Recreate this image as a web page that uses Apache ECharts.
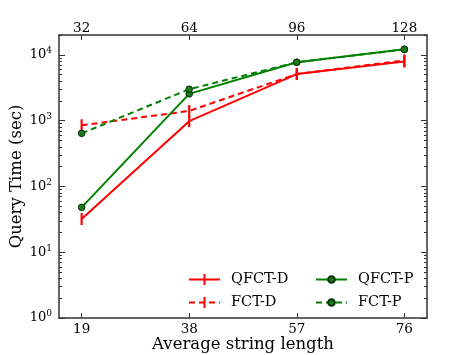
<!DOCTYPE html>
<html>
<head>
<meta charset="utf-8">
<script src="https://cdn.jsdelivr.net/npm/echarts@6/dist/echarts.min.js"></script>
<style>html,body{margin:0;padding:0;background:#fff}#c{width:474px;height:355px}</style>
</head>
<body>
<div id="c"></div>
<script>
// ---- data ----
const lengths = [19, 38, 57, 76];           // bottom axis categories (average string length)
const topTicks = [32, 64, 96, 128];         // top axis tick labels
const yTicks = [1, 10, 100, 1000, 10000];   // decade ticks
const qfctD = [32, 980, 5100, 7900];
const fctD  = [850, 1400, 5100, 8200];
const qfctP = [48, 2550, 7700, 12100];
const fctP  = [640, 3000, 7700, 12100];

const xMin = 15, xMax = 80, yMin = 1, yMax = 20000;
const ratio = topTicks[0] / lengths[0];
const minorTicks = [];
for (let d = 1; d < yMax; d *= 10) for (let k = 2; k <= 9; k++) if (d * k <= yMax) minorTicks.push(d * k);

const RED = '#ff0000', GREEN = '#008000', FRAME = '#333333';
const serif = 'DejaVu Serif';
// marker shapes (padded so that legend icons stay small)
const BAR = 'path://M0,0L0,0ZM10,10L10,10ZM4.1,0L5.9,0L5.9,10L4.1,10Z';
const DOT = 'path://M0,0L0,0ZM10,10L10,10ZM8,5A3,3,0,1,1,2,5A3,3,0,1,1,8,5Z';

const chart = echarts.init(document.getElementById('c'), null, {renderer: 'canvas'});

function yAxisDef(pos, ticks, len, showLabel, showLine) {
  return {
    type: 'log', logBase: 10, min: yMin, max: yMax, position: pos,
    axisLine: {show: showLine, lineStyle: {color: FRAME, width: 1.5}},
    axisTick: {show: true, inside: true, length: len, customValues: ticks, lineStyle: {color: FRAME, width: 1}},
    axisLabel: showLabel ? {
      show: true, customValues: ticks, margin: 7,
      formatter: v => '10{sup|' + Math.round(Math.log10(v)) + '}',
      fontFamily: serif, fontSize: 13, color: '#000',
      rich: {sup: {fontFamily: serif, fontSize: 9, color: '#000', padding: [0, 0, 8, 0]}}
    } : {show: false},
    splitLine: {show: false}, minorTick: {show: false}
  };
}

const legendCommon = {
  orient: 'vertical', top: 272, padding: 0,
  itemWidth: 31, itemHeight: 14, itemGap: 8,
  textStyle: {fontFamily: serif, fontSize: 14.5, color: '#000', padding: [0, 0, 0, 6]}
};

const option = {
  backgroundColor: '#fff',
  animation: false,
  grid: {left: 59, right: 47, top: 35, bottom: 37, containLabel: false, outerBoundsMode: 'none'},
  legend: [
    Object.assign({left: 188, data: ['QFCT-D', 'FCT-D']}, legendCommon),
    Object.assign({left: 315, data: ['QFCT-P', 'FCT-P']}, legendCommon)
  ],
  xAxis: [
    {
      type: 'value', min: xMin, max: xMax, position: 'bottom',
      name: 'Average string length', nameLocation: 'middle', nameGap: 18, nameMoveOverlap: false,
      nameTextStyle: {fontFamily: serif, fontSize: 16.5, color: '#000'},
      axisLine: {show: true, lineStyle: {color: FRAME, width: 1.5}},
      axisTick: {show: true, inside: true, length: 5, customValues: lengths, lineStyle: {color: FRAME}},
      axisLabel: {customValues: lengths, fontFamily: serif, fontSize: 13.5, color: '#000', margin: 4},
      splitLine: {show: false}
    },
    {
      type: 'value', min: xMin * ratio, max: xMax * ratio, position: 'top',
      axisLine: {show: true, lineStyle: {color: FRAME, width: 1.5}},
      axisTick: {show: true, inside: true, length: 5, customValues: topTicks, lineStyle: {color: FRAME}},
      axisLabel: {customValues: topTicks, fontFamily: serif, fontSize: 13.5, color: '#000', margin: 0},
      splitLine: {show: false}
    }
  ],
  yAxis: [
    Object.assign(yAxisDef('left', yTicks, 6, true, true), {
      name: 'Query Time (sec)', nameLocation: 'middle', nameGap: 34, nameRotate: 90, nameMoveOverlap: false,
      nameTextStyle: {fontFamily: serif, fontSize: 16.5, color: '#000'}
    }),
    yAxisDef('left', minorTicks, 3, false, false),
    yAxisDef('right', yTicks, 6, false, true),
    yAxisDef('right', minorTicks, 3, false, false)
  ],
  series: [
    {
      name: 'QFCT-D', type: 'line', data: lengths.map((x, i) => [x, qfctD[i]]),
      lineStyle: {color: RED, width: 2}, itemStyle: {color: RED},
      symbol: BAR, symbolSize: 12, z: 3
    },
    {
      name: 'FCT-D', type: 'line', data: lengths.map((x, i) => [x, fctD[i]]),
      lineStyle: {color: RED, width: 2, type: [6, 4]}, itemStyle: {color: RED},
      symbol: BAR, symbolSize: 12, z: 2
    },
    {
      name: 'QFCT-P', type: 'line', data: lengths.map((x, i) => [x, qfctP[i]]),
      lineStyle: {color: GREEN, width: 2}, itemStyle: {color: '#1a7a1a', borderColor: '#003300', borderWidth: 1},
      symbol: DOT, symbolSize: 11, z: 4
    },
    {
      name: 'FCT-P', type: 'line', data: lengths.map((x, i) => [x, fctP[i]]),
      lineStyle: {color: GREEN, width: 2, type: [6, 4]}, itemStyle: {color: '#1a7a1a', borderColor: '#003300', borderWidth: 1},
      symbol: DOT, symbolSize: 11, z: 4
    }
  ]
};
chart.setOption(option);
</script>
</body>
</html>
